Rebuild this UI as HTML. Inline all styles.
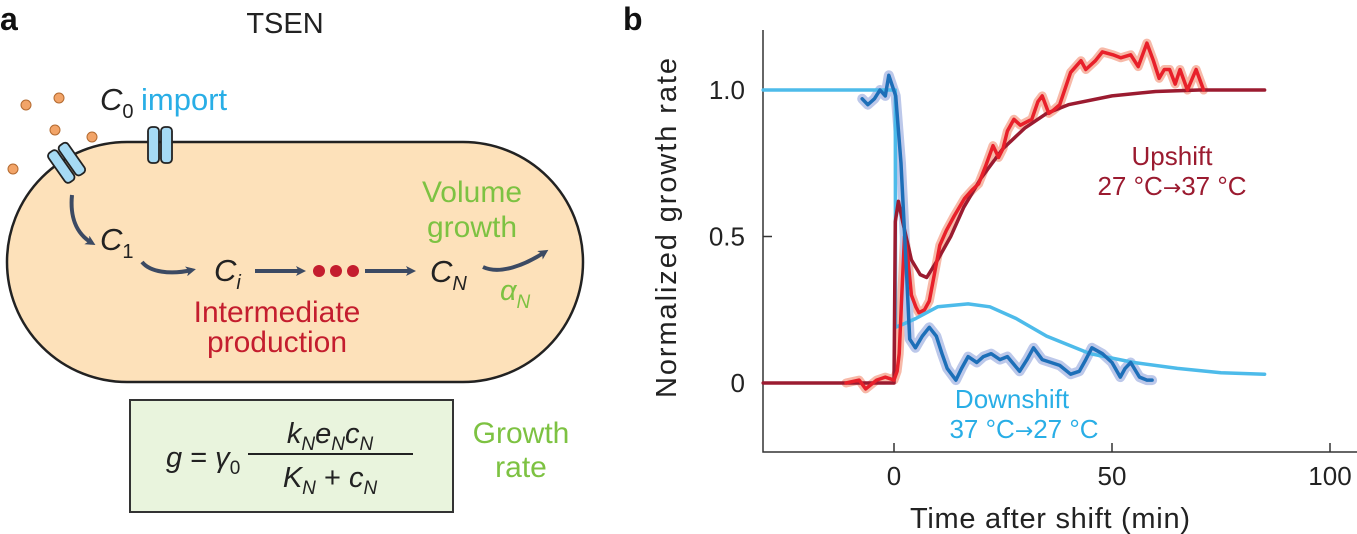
<!DOCTYPE html>
<html><head><meta charset="utf-8"><style>
html,body{margin:0;padding:0;background:#fff;}
svg{display:block;font-family:"Liberation Sans",sans-serif;}
</style></head><body>
<svg width="1357" height="534" viewBox="0 0 1357 534">
<defs>
<marker id="ah" markerWidth="10" markerHeight="10" refX="6" refY="5" orient="auto" markerUnits="userSpaceOnUse"><path d="M0,0 L10,5 L0,10 L2.5,5 Z" fill="#3c4a63"/></marker>
</defs>
<g>
<text x="0" y="30" font-size="32" font-weight="bold" fill="#111">a</text>
<text x="285" y="33" font-size="29" fill="#222" text-anchor="middle">TSEN</text>
<rect x="7" y="142" width="576" height="240" rx="120" ry="120" fill="#fde1ba" stroke="#222" stroke-width="2.5"/>
<g fill="#f2a468" stroke="#b36a30" stroke-width="1">
<circle cx="26" cy="105" r="5"/><circle cx="59" cy="98" r="5"/><circle cx="55" cy="130" r="5"/><circle cx="92" cy="137" r="5"/><circle cx="13" cy="169" r="5"/>
</g>
<g fill="#a6daf4" stroke="#222" stroke-width="1.8">
<rect x="148" y="127" width="11" height="36" rx="4"/><rect x="161" y="127" width="11" height="36" rx="4"/>
</g>
<g fill="#a6daf4" stroke="#222" stroke-width="1.8" transform="rotate(-35 66 162)">
<rect x="54" y="145" width="11" height="36" rx="4"/><rect x="67" y="145" width="11" height="36" rx="4"/>
</g>
<text x="100" y="110" font-size="31" fill="#222"><tspan font-style="italic">C</tspan><tspan font-size="20" dy="8">0</tspan></text>
<text x="141" y="110" font-size="31" fill="#29aee6">import</text>
<path d="M72,195 C70,215 75,233 92,243" fill="none" stroke="#3c4a63" stroke-width="4" marker-end="url(#ah)"/>
<text x="100" y="250" font-size="31" fill="#222"><tspan font-style="italic">C</tspan><tspan font-size="20" dy="8">1</tspan></text>
<path d="M142,262 C150,272 170,275 192,270" fill="none" stroke="#3c4a63" stroke-width="4" marker-end="url(#ah)"/>
<text x="214" y="281" font-size="31" fill="#222"><tspan font-style="italic">C</tspan><tspan font-size="20" dy="8" font-style="italic">i</tspan></text>
<line x1="255" y1="271" x2="302" y2="271" stroke="#3c4a63" stroke-width="4" marker-end="url(#ah)"/>
<g fill="#c41d2e"><circle cx="319" cy="271" r="6"/><circle cx="336" cy="271" r="6"/><circle cx="353" cy="271" r="6"/></g>
<line x1="365" y1="271" x2="412" y2="271" stroke="#3c4a63" stroke-width="4" marker-end="url(#ah)"/>
<text x="430" y="282" font-size="31" fill="#222"><tspan font-style="italic">C</tspan><tspan font-size="20" dy="8" font-style="italic">N</tspan></text>
<path d="M483,267 C500,275 525,265 545,252" fill="none" stroke="#3c4a63" stroke-width="4" marker-end="url(#ah)"/>
<text x="500" y="300" font-size="29" fill="#7dc242" font-style="italic">α<tspan font-size="19" dy="8">N</tspan></text>
<text x="472" y="202" font-size="30" fill="#7dc242" text-anchor="middle"><tspan x="472">Volume</tspan><tspan x="472" dy="35">growth</tspan></text>
<text x="277" y="322" font-size="30" fill="#c41d2e" text-anchor="middle"><tspan x="277">Intermediate</tspan><tspan x="277" dy="30">production</tspan></text>
<rect x="130" y="400" width="323" height="112" fill="#e9f4dd" stroke="#333" stroke-width="2"/>
<text x="166" y="467" font-size="29" fill="#222" font-style="italic">g <tspan font-style="normal">=</tspan> γ<tspan font-size="19" dy="7" font-style="normal">0</tspan></text>
<line x1="248" y1="454" x2="413" y2="454" stroke="#222" stroke-width="2"/>
<text x="330" y="443" font-size="29" fill="#222" font-style="italic" text-anchor="middle">k<tspan font-size="19" dy="7">N</tspan><tspan dy="-7">e</tspan><tspan font-size="19" dy="7">N</tspan><tspan dy="-7">c</tspan><tspan font-size="19" dy="7">N</tspan></text>
<text x="330" y="487" font-size="29" fill="#222" font-style="italic" text-anchor="middle">K<tspan font-size="19" dy="7">N</tspan><tspan dy="-7" font-style="normal"> + </tspan>c<tspan font-size="19" dy="7">N</tspan></text>
<text x="521" y="443" font-size="30" fill="#7dc242" text-anchor="middle"><tspan x="521">Growth</tspan><tspan x="521" dy="34">rate</tspan></text>
</g>
<g id="chart">
<text x="623" y="30" font-size="32" font-weight="bold" fill="#111">b</text>
</g>
</svg>
<script>
const upTimes=[-11,-8,-6.5,-4,-2,0,0.7,1.2,1.8,2.4,3.2,4,5,5.7,7,8.1,9,10.5,12,13.8,16.2,18,19.4,21,22.7,24,25,26,27.5,29,31.6,33,34,35.5,36.5,38,40.5,42.9,44,46.2,47.8,50.2,52,54.3,56,58,59.5,60.8,62,63.2,64.5,65.6,67.3,69.3,71];
const upValues=[0,0.01,-0.02,0.01,0.02,0.01,0.04,0.1,0.3,0.5,0.42,0.3,0.26,0.24,0.25,0.28,0.35,0.47,0.52,0.57,0.63,0.66,0.68,0.74,0.81,0.77,0.8,0.86,0.9,0.88,0.9,0.96,0.98,0.92,0.93,0.95,1.06,1.1,1.07,1.1,1.13,1.12,1.11,1.12,1.08,1.16,1.1,1.04,1.07,1.07,1.02,1.07,1.0,1.07,1.0];
const upModelT=[-30,0,0.3,1,2,4,6,7.5,10,13,16,20,25,30,35,40,50,60,70,85];
const upModelV=[0,0,0.55,0.62,0.55,0.42,0.37,0.36,0.42,0.5,0.6,0.7,0.8,0.87,0.92,0.95,0.98,0.995,1.0,1.0];
const downTimes=[-7.3,-6,-4.5,-3.2,-2,-1.2,0.4,1.6,2.8,3.6,4.9,6.5,8.1,9.7,11,12.2,14.2,15.5,17,19,20.5,22.3,24.3,26,28.8,30.5,32,34,36,38,40.5,42.5,44,45.4,47.8,50,51.9,53,54.3,56.3,58,59.2];
const downValues=[0.97,0.95,0.97,1.0,0.98,1.05,0.98,0.75,0.4,0.15,0.12,0.16,0.19,0.16,0.1,0.05,0.01,0.05,0.09,0.07,0.09,0.1,0.08,0.09,0.04,0.08,0.12,0.08,0.07,0.06,0.03,0.04,0.08,0.12,0.1,0.07,0.02,0.05,0.07,0.02,0.01,0.01];
const downModelT=[-30,0,0.3,0.35,2,5,10,17,22,28,35,45,55,65,75,85];
const downModelV=[1,1,1,0.19,0.2,0.22,0.26,0.27,0.26,0.22,0.16,0.1,0.07,0.05,0.035,0.03];
const xTicks=[0,50,100];
const yTicks=[0,0.5,1.0];
const yTickLabels=["0","0.5","1.0"];

const NS="http://www.w3.org/2000/svg";
const g=document.getElementById('chart');
const X=t=>894+t*4.36;
const Y=v=>383-v*293;
function el(tag,attrs){const e=document.createElementNS(NS,tag);for(const k in attrs)e.setAttribute(k,attrs[k]);g.appendChild(e);return e;}
function line(ts,vs,color,w){return el('path',{d:ts.map((t,i)=>(i?'L':'M')+X(t).toFixed(1)+','+Y(vs[i]).toFixed(1)).join(''),fill:'none',stroke:color,'stroke-width':w,'stroke-linejoin':'round','stroke-linecap':'round'});}

const ax=el('path',{d:'M763,30 L763,452 L1357,452',fill:'none',stroke:'#333','stroke-width':1.5});


xTicks.forEach(t=>{
  const tk=el('line',{x1:X(t),x2:X(t),y1:452,y2:443,stroke:'#333','stroke-width':1.5});
  
  
  const tl=el('text',{x:X(t),y:485,'font-size':26,fill:'#222','text-anchor':'middle'});tl.textContent=t;
  
  
});
yTicks.forEach((v,i)=>{
  const tk=el('line',{x1:763,x2:772,y1:Y(v),y2:Y(v),stroke:'#333','stroke-width':1.5});
  
  
  const tl=el('text',{x:745,y:Y(v)+9,'font-size':26,fill:'#222','text-anchor':'end'});tl.textContent=yTickLabels[i];
  
  
});
const xt=el('text',{x:1050,y:528,'font-size':29,fill:'#222','text-anchor':'middle',textLength:280});xt.textContent='Time after shift (min)';


const yt=el('text',{x:0,y:0,'font-size':29,fill:'#222','text-anchor':'middle',textLength:340,transform:'translate(676,228) rotate(-90)'});yt.textContent='Normalized growth rate';



let s;
s=line(upTimes,upValues,'#f7b9a8',9);
s=line(downTimes,downValues,'#bcc8ea',10);
s=line(downModelT,downModelV,'#4dbbea',3.5);
s=line(upModelT,upModelV,'#9b1b30',3.5);
s=line(upTimes,upValues,'#e8202a',3.5);
s=line(downTimes,downValues,'#1d6fb8',3.5);

const ul=el('text',{x:1172,y:165,'font-size':26,fill:'#9b1b30','text-anchor':'middle'});
ul.innerHTML='<tspan x="1172">Upshift</tspan><tspan x="1172" dy="30">27 °C<tspan font-family="DejaVu Sans" font-size="22">→</tspan>37 °C</tspan>';


const dl=el('text',{x:1022,y:408,'font-size':26,fill:'#29aee6','text-anchor':'middle'});
dl.innerHTML='<tspan x="1012">Downshift</tspan><tspan x="1024" dy="30">37 °C<tspan font-family="DejaVu Sans" font-size="22">→</tspan>27 °C</tspan>';


</script>
</body></html>
